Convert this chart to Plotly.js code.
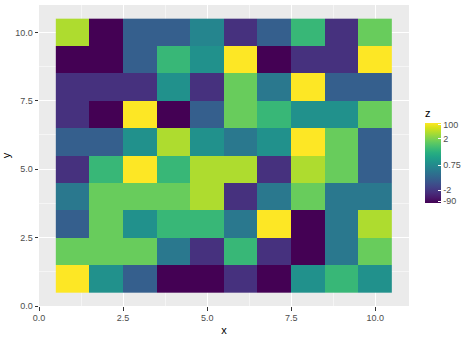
<!DOCTYPE html>
<html><head><meta charset="utf-8">
<script src="https://cdn.plot.ly/plotly-3.0.1.min.js"></script>
<style>html,body{margin:0;padding:0;background:#fff}#c{width:474px;height:338px}</style>
</head><body><div id="c"></div>
<script>
// z values given as position on the (transformed) colour scale, 0 = min, 1 = max
const xs = [1,2,3,4,5,6,7,8,9,10];
const ys = [1,2,3,4,5,6,7,8,9,10];
const zRows = [
  [1.00,0.50,0.30,0.00,0.00,0.14,0.00,0.50,0.67,0.50],
  [0.77,0.77,0.77,0.40,0.14,0.67,0.14,0.00,0.40,0.77],
  [0.30,0.77,0.50,0.67,0.67,0.40,1.00,0.00,0.40,0.88],
  [0.40,0.77,0.77,0.77,0.88,0.14,0.40,0.77,0.40,0.40],
  [0.14,0.67,1.00,0.67,0.88,0.88,0.14,0.88,0.77,0.30],
  [0.30,0.30,0.50,0.88,0.50,0.40,0.50,1.00,0.77,0.30],
  [0.14,0.00,1.00,0.00,0.30,0.77,0.67,0.50,0.50,0.77],
  [0.14,0.14,0.14,0.50,0.14,0.77,0.40,1.00,0.30,0.30],
  [0.00,0.00,0.30,0.67,0.50,1.00,0.00,0.14,0.14,1.00],
  [0.88,0.00,0.30,0.30,0.45,0.14,0.30,0.67,0.14,0.77]
];
const cbTickVals = [0.02,0.16,0.47,0.80,0.98];
const cbTickText = ['-90','-2','0.75','2','100'];
const axisTicks = [0,2.5,5,7.5,10];

const F = 'Liberation Sans, Arial, sans-serif';
const trace = {
  type:'heatmap', x:xs, y:ys, z:zRows, colorscale:'Viridis', zmin:0, zmax:1,
  hoverinfo:'none',
  colorbar:{
    title:{text:'z', side:'top', font:{family:F,size:11,color:'#000'}},
    tickvals:cbTickVals, ticktext:cbTickText,
    tickfont:{family:F,size:9,color:'#4D4D4D'},
    ticks:'inside', ticklen:3, tickcolor:'white', tickwidth:1,
    thickness:16, lenmode:'pixels', len:97,
    x:1.043, xanchor:'left', y:0.3425, yanchor:'bottom',
    outlinewidth:0, xpad:0, ypad:0
  }
};
const ax = (title) => ({
  range:[0,11], tickvals:axisTicks, tickformat:'.1f', ticks:'outside', ticklen:3.5, tickwidth:1, tickcolor:'#333333',
  tickfont:{family:F,size:9,color:'#4D4D4D'},
  showgrid:true, gridcolor:'#FFFFFF', gridwidth:1.1, zeroline:false, showline:false,
  minor:{tickvals:[1.25,3.75,6.25,8.75], showgrid:true, gridcolor:'#FFFFFF', gridwidth:0.5, ticks:''},
  title:{text:title, font:{family:F,size:11,color:'#000'}, standoff:4},
  fixedrange:true
});
const layout = {
  width:474, height:338,
  margin:{l:39, r:64.5, t:5.3, b:31.6},
  paper_bgcolor:'#FFFFFF', plot_bgcolor:'#EBEBEB',
  xaxis:ax('x'), yaxis:ax('y'),
  font:{family:F}
};
Plotly.newPlot('c',[trace],layout,{displayModeBar:false,staticPlot:true});
</script></body></html>
